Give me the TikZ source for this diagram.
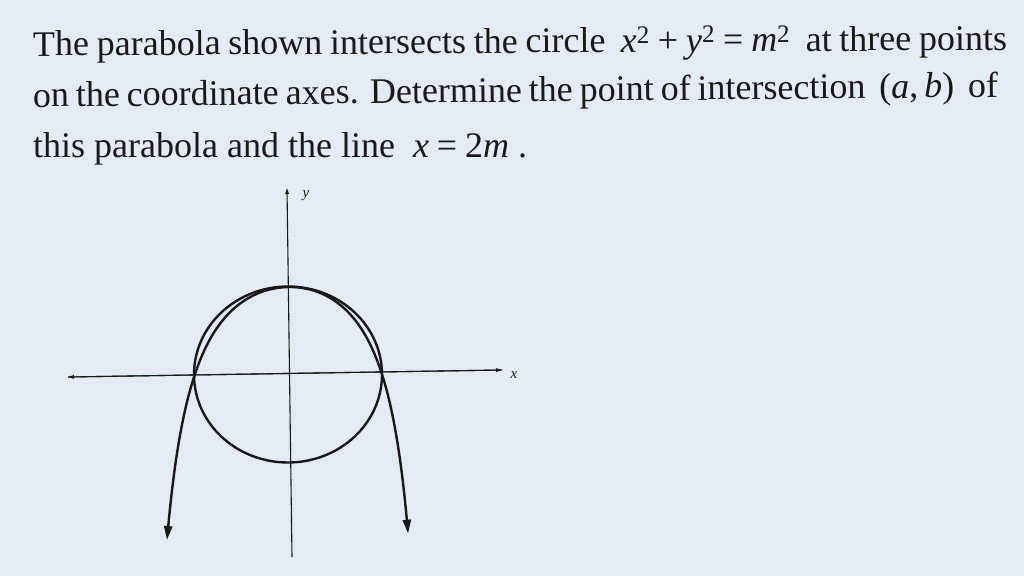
\documentclass[tikz,border=0pt]{standalone}
\usepackage{fontspec}
\setmainfont{Liberation Serif}
\usetikzlibrary{arrows.meta}
\definecolor{bg}{RGB}{228,235,242}
\definecolor{ink}{RGB}{25,25,28}
\newcommand\mv[1]{\textit{#1}}
\newcommand\opsp{\hspace{0.22em}}
\tikzset{
  txt/.style={anchor=base west, inner sep=0pt, text=ink, font=\fontsize{36}{42}\selectfont},
  axis/.style={draw=ink, line width=1.1pt, -{Triangle[length=6pt,width=3.5pt]}},
  curve/.style={draw=ink, line width=2.4pt},
  tipped/.style={{Triangle[length=14pt,width=8pt]}-{Triangle[length=14pt,width=8pt]}},
  lab/.style={inner sep=0pt, text=ink, font=\fontsize{15}{17}\selectfont\itshape}
}
\begin{document}
\begin{tikzpicture}[x=1pt,y=-1pt,
  declare function={f(\u)=(0.0770*\u)*(0.0770*\u)/(1-(\u/153.09)*(\u/153.09));}]
\path[fill=bg] (0,0) rectangle (1024,576);
\useasboundingbox (0,0) rectangle (1024,576);
% text
\node[txt, rotate=0.35] (l1) at (33,56) {\makebox[974pt][s]{The parabola shown intersects the circle\ \ \mv{x}\textsuperscript{2}\opsp+\opsp\mv{y}\textsuperscript{2}\opsp=\opsp\mv{m}\textsuperscript{2}\ \ at three points}};
\node[txt, rotate=0.6] (l2) at (33,107) {\makebox[965pt][s]{on the coordinate axes. Determine the point of intersection\ \ (\mv{a},\,\mv{b})\ \ of}};
\node[txt] (l3) at (33,157) {this parabola and the line\ \ \mv{x}\opsp=\opsp2\mv{m}\ .};
% axes
\coordinate (xs) at (68,377);
\coordinate (xe) at (502,370);
\coordinate (ys) at (292,557);
\coordinate (ye) at (287,188);
\draw[axis] (xe) -- (xs);
\draw[axis] (xs) -- (xe);
\draw[axis] (ys) -- (ye);
\node[lab] (xl) at (514,375) {x};
\node[lab] (yl) at (306,196) {y};
% circle
\coordinate (c) at (288,374.5);
\draw[curve] (c) ellipse [x radius=94, y radius=88];
% parabola
\draw[curve, tipped]
  plot[domain=123:0, samples=70, smooth] ({290-\x},{287+f(\x)})
  -- plot[domain=0:123, samples=70, smooth] ({290+0.96*\x},{287+0.975*f(\x)});
\end{tikzpicture}
\end{document}
